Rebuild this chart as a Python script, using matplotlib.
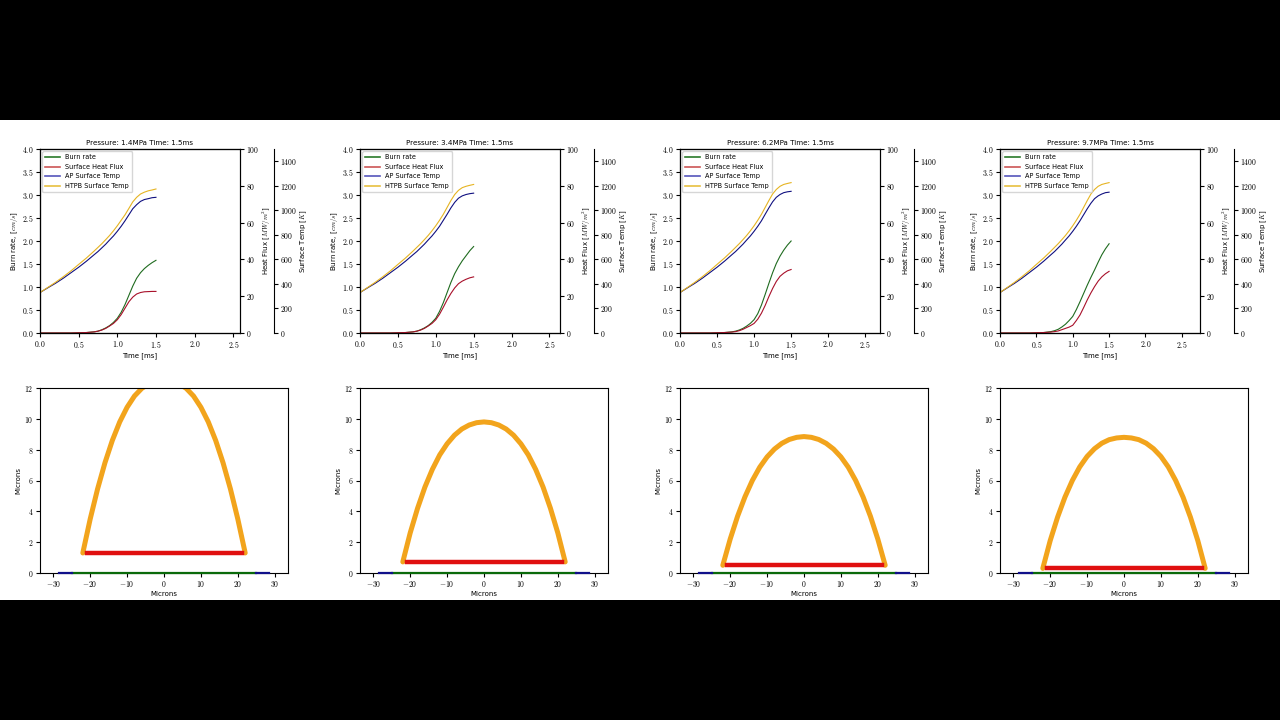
import matplotlib.pyplot as plt
from matplotlib.patches import Rectangle
from matplotlib.ticker import FuncFormatter
import numpy as np

plt.rcParams['mathtext.fontset'] = 'cm'
plt.rcParams['font.size'] = 5

pressures = ["1.4", "3.4", "6.2", "9.7"]
time_xmax = [2.587, 2.64, 2.70, 2.75]

t = [0, 0.1, 0.2, 0.3, 0.4, 0.5, 0.6, 0.7, 0.75, 0.8, 0.85, 0.9, 0.95, 1.0,
     1.05, 1.1, 1.15, 1.2, 1.25, 1.3, 1.35, 1.4, 1.45, 1.5]

burn_14 = [0, 0, 0, 0, 0, 0.005, 0.01, 0.025, 0.04, 0.07, 0.11, 0.16, 0.23, 0.32,
           0.45, 0.62, 0.82, 1.02, 1.19, 1.31, 1.40, 1.47, 1.53, 1.58]
burn_34 = [0, 0, 0, 0, 0, 0.005, 0.01, 0.025, 0.04, 0.07, 0.11, 0.16, 0.23, 0.32,
           0.47, 0.66, 0.88, 1.10, 1.29, 1.44, 1.57, 1.68, 1.79, 1.88]
burn_62 = [0, 0, 0, 0, 0, 0.005, 0.01, 0.025, 0.04, 0.065, 0.10, 0.15, 0.21, 0.29,
           0.42, 0.61, 0.84, 1.08, 1.31, 1.51, 1.67, 1.80, 1.91, 2.00]
burn_97 = [0, 0, 0, 0, 0, 0.005, 0.01, 0.03, 0.05, 0.08, 0.13, 0.19, 0.27, 0.36,
           0.51, 0.68, 0.86, 1.04, 1.21, 1.37, 1.54, 1.70, 1.83, 1.94]

flux_14 = [0, 0, 0, 0, 0, 0.12, 0.25, 0.6, 1.0, 1.6, 2.5, 3.8, 5.2, 7.2,
           10.0, 13.5, 17.0, 19.5, 21.2, 22.0, 22.4, 22.5, 22.6, 22.6]
flux_34 = [0, 0, 0, 0, 0, 0.12, 0.25, 0.6, 1.0, 1.6, 2.5, 3.8, 5.2, 7.2,
           10.2, 14.0, 18.0, 21.5, 24.5, 26.8, 28.2, 29.2, 30.0, 30.5]
flux_62 = [0, 0, 0, 0, 0, 0.12, 0.25, 0.5, 0.75, 1.25, 2.0, 3.0, 4.0, 5.2,
           7.5, 10.8, 15.0, 19.8, 24.2, 28.0, 30.8, 32.5, 33.8, 34.5]
flux_97 = [0, 0, 0, 0, 0, 0.12, 0.25, 0.5, 0.75, 1.1, 1.8, 2.5, 3.2, 4.2,
           6.8, 9.8, 13.8, 18.0, 21.8, 25.2, 28.2, 30.5, 32.2, 33.5]

ap_14 = [330, 368, 405, 446, 491, 536, 585, 638, 664, 694, 724, 758, 791, 829,
         870, 915, 964, 1013, 1046, 1073, 1088, 1095, 1103, 1106]
ap_34 = [330, 368, 405, 446, 491, 536, 585, 638, 664, 694, 724, 758, 791, 829,
         870, 919, 968, 1020, 1065, 1099, 1118, 1129, 1136, 1140]
ap_62 = [330, 368, 405, 446, 491, 536, 585, 638, 664, 694, 724, 758, 791, 829,
         870, 915, 968, 1020, 1069, 1106, 1129, 1144, 1151, 1155]
ap_97 = [330, 368, 405, 446, 491, 536, 585, 638, 664, 694, 724, 758, 791, 829,
         870, 915, 964, 1013, 1058, 1095, 1118, 1133, 1144, 1148]

htpb_14 = [330, 371, 413, 458, 506, 559, 611, 668, 698, 728, 761, 795, 833, 874,
           919, 964, 1016, 1069, 1106, 1133, 1148, 1159, 1166, 1174]
htpb_34 = [330, 371, 413, 458, 506, 559, 611, 668, 698, 728, 761, 795, 833, 874,
           919, 968, 1024, 1080, 1129, 1163, 1185, 1196, 1204, 1211]
htpb_62 = [330, 371, 413, 458, 506, 559, 611, 668, 698, 728, 761, 795, 833, 874,
           919, 968, 1024, 1080, 1133, 1170, 1196, 1211, 1219, 1226]
htpb_97 = [330, 371, 413, 458, 506, 559, 611, 668, 698, 728, 761, 795, 833, 874,
           919, 968, 1024, 1080, 1133, 1170, 1196, 1211, 1219, 1226]

# perfil de la superficie (micras)
arc_x = [-22, -20, -18, -16, -14, -12, -10, -8, -6, -4, -2, 0,
         2, 4, 6, 8, 10, 12, 14, 16, 18, 20, 22]
arc_14 = [1.30, 3.50, 5.45, 7.15, 8.60, 9.80, 10.75, 11.48, 11.98, 12.28, 12.43, 12.46,
          12.43, 12.28, 11.98, 11.48, 10.75, 9.80, 8.60, 7.15, 5.45, 3.50, 1.30]
arc_34 = [0.72, 2.60, 4.20, 5.58, 6.72, 7.66, 8.38, 8.94, 9.34, 9.60, 9.75, 9.80,
          9.75, 9.60, 9.34, 8.94, 8.38, 7.66, 6.72, 5.58, 4.20, 2.60, 0.72]
arc_62 = [0.50, 2.20, 3.68, 4.94, 6.00, 6.86, 7.53, 8.04, 8.41, 8.66, 8.80, 8.85,
          8.80, 8.66, 8.41, 8.04, 7.53, 6.86, 6.00, 4.94, 3.68, 2.20, 0.50]
arc_97 = [0.30, 2.10, 3.62, 4.92, 6.00, 6.88, 7.56, 8.06, 8.42, 8.65, 8.76, 8.80,
          8.76, 8.65, 8.42, 8.06, 7.56, 6.88, 6.00, 4.92, 3.62, 2.10, 0.30]
base_y = [1.30, 0.72, 0.50, 0.30]

flux_x = [-21, 21]
ap_left = [-28.4, -24.8]
ap_right = [24.8, 28.4]
htpb_base = [-24.8, 24.8]

burns = [burn_14, burn_34, burn_62, burn_97]
fluxes = [flux_14, flux_34, flux_62, flux_97]
aps = [ap_14, ap_34, ap_62, ap_97]
htpbs = [htpb_14, htpb_34, htpb_62, htpb_97]
arcs = [arc_14, arc_34, arc_62, arc_97]

# numeros de los ejes en Computer Modern
fmt1 = FuncFormatter(lambda v, p: r"$\mathrm{%.1f}$" % v)
fmt0 = FuncFormatter(lambda v, p: r"$\mathrm{%d}$" % round(v))

fig = plt.figure(figsize=(12.8, 7.2), dpi=100)
fig.patch.set_facecolor("black")
fig.patches.append(Rectangle((0, 120/720), 1, 480/720, transform=fig.transFigure,
                             facecolor="white", edgecolor="none", zorder=-10))

for i in range(4):
    x0 = (40 + 320*i)/1280

    # graficas de arriba
    ax = fig.add_axes([x0, 387/720, 200/1280, 184/720])
    ax2 = ax.twinx()
    ax3 = ax.twinx()
    ax3.spines["right"].set_position(("outward", 24.5))

    l1, = ax.plot(t, burns[i], c="#1f6b1f", lw=0.8, label="Burn rate")
    l2, = ax2.plot(t, fluxes[i], c="#a8102a", lw=0.8, label="Surface Heat Flux")
    l3, = ax3.plot(t, aps[i], c="#101080", lw=0.8, label="AP Surface Temp")
    l4, = ax3.plot(t, htpbs[i], c="#e6b422", lw=0.8, label="HTPB Surface Temp")

    ax.set_xlim(0, time_xmax[i])
    ax.set_ylim(0, 4)
    ax.set_xticks(np.arange(0, 2.51, 0.5))
    ax.set_yticks(np.arange(0, 4.01, 0.5))
    ax.xaxis.set_major_formatter(fmt1)
    ax.yaxis.set_major_formatter(fmt1)
    ax2.set_ylim(0, 100)
    ax2.set_yticks(range(0, 101, 20))
    ax2.yaxis.set_major_formatter(fmt0)
    ax3.set_ylim(0, 1500)
    ax3.set_yticks(range(0, 1401, 200))
    ax3.yaxis.set_major_formatter(fmt0)

    ax.set_title("Pressure: {}MPa Time: 1.5ms".format(pressures[i]), fontsize=5.1, pad=3)
    ax.set_xlabel("Time [ms]", labelpad=1.5)
    ax.set_ylabel("Burn rate, [$cm/s$]", labelpad=1.5)
    ax2.set_ylabel("Heat Flux [$MW/m^2$]", labelpad=1)
    ax3.set_ylabel("Surface Temp [$K$]", labelpad=1)
    for a in (ax, ax2, ax3):
        a.tick_params(labelsize=5.6, length=3, pad=1.5)

    leg = ax3.legend(handles=[l1, l2, l3, l4], loc="upper left", fontsize=4.7,
                     borderpad=0.45, labelspacing=0.55, handlelength=2.3,
                     borderaxespad=0.35)
    for h, c in zip(leg.legend_handles, ["#2a7a2a", "#cc5555", "#5555bb", "#e8c040"]):
        h.set_color(c)
        h.set_linewidth(1.2)

    # graficas de abajo
    bx = fig.add_axes([x0, 147/720, 248/1280, 185/720])
    bx.plot(arc_x, arcs[i], c="#f2a41c", lw=3.6, solid_capstyle="round")
    bx.plot(flux_x, [base_y[i], base_y[i]], c="#e01010", lw=3.2)
    bx.plot(htpb_base, [0, 0], c="#0a6a0a", lw=1.6, clip_on=False, zorder=4)
    bx.plot(ap_left, [0, 0], c="#10108a", lw=1.6, clip_on=False, zorder=4)
    bx.plot(ap_right, [0, 0], c="#10108a", lw=1.6, clip_on=False, zorder=4)
    bx.set_xlim(-33.6, 33.6)
    bx.set_ylim(0, 12)
    bx.set_xticks(range(-30, 31, 10))
    bx.set_yticks(range(0, 13, 2))
    bx.xaxis.set_major_formatter(fmt0)
    bx.yaxis.set_major_formatter(fmt0)
    bx.set_xlabel("Microns", labelpad=1)
    bx.set_ylabel("Microns", labelpad=2)
    bx.tick_params(labelsize=5.6, length=3, pad=1.5)

fig.savefig("out.png", dpi=100, facecolor=fig.get_facecolor())
